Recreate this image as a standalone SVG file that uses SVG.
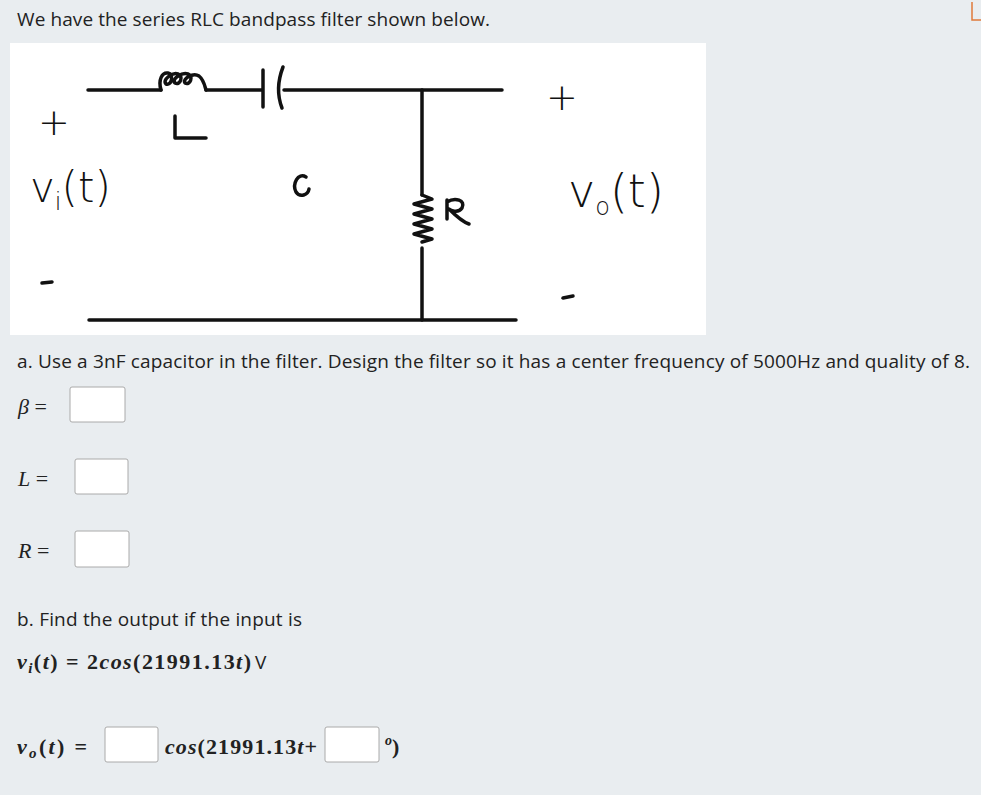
<svg xmlns="http://www.w3.org/2000/svg" width="981" height="795" viewBox="0 0 981 795">
<style>
.t{font-family:"Open Sans","Liberation Sans",sans-serif;font-size:19px;fill:#222}
.m{font-family:"Liberation Serif",serif;font-size:22px;fill:#222}
.b{font-weight:bold}
.hw{font-family:"DejaVu Sans",sans-serif;fill:#111;font-weight:300}
.w{stroke:#111;stroke-width:3.5;fill:none;stroke-linecap:round;stroke-linejoin:round}
.box{fill:#fff;stroke:#aaa;stroke-width:1}
</style>
<rect width="981" height="795" fill="#e9edf0"/>
<path d="M972 2V20H981" stroke="#e07a3a" stroke-width="1.5" fill="none"/>
<text class="t" x="17" y="26" textLength="473">We have the series RLC bandpass filter shown below.</text>
<g id="circuit">
<rect x="10" y="43" width="696" height="292" fill="#fff"/>
<path class="w" d="M88 90H161"/>
<path class="w" d="M161 90C158 80 162 72 168 73C174 74 172 86 166 84C162 80 172 72 178 74C184 76 180 86 175 83C171 79 182 72 188 74C194 76 190 86 185 83C182 79 193 72 199 76C204 80 205 87 206 90"/>
<path class="w" d="M206 90H262"/>
<path class="w" d="M263 70V107"/>
<path class="w" d="M283 67C278 80 277 95 282 108"/>
<path class="w" d="M284 90H502"/>
<path class="w" d="M422 90V195"/>
<path class="w" d="M422 195L432 199L414 204L432 209L414 214L432 219L414 224L432 229L414 234L432 239L422 242"/>
<path class="w" d="M422 248V320"/>
<path class="w" d="M89 320H516"/>
<text class="hw" x="38" y="135" font-size="38">+</text>
<text class="hw" x="546" y="110" font-size="38">+</text>
<path class="w" d="M175 116V138H206"/>
<path class="w" d="M306 177C298 172 292 184 296 192C300 198 308 195 309 189"/>
<path class="w" d="M447 200V219M447 202C455 197 466 200 462 208C458 214 450 210 449 209C456 216 463 222 469 224"/>
<text class="hw" x="30" y="202" font-size="42">v<tspan font-size="24" dy="8">i</tspan><tspan dy="-8">(t)</tspan></text>
<text class="hw" x="568" y="207" font-size="46">v<tspan font-size="24" dy="8">o</tspan><tspan dy="-8">(t)</tspan></text>
<path class="w" d="M42 283L52 282"/>
<path class="w" d="M563 298L573 296"/>
</g>
<text class="t" x="17" y="368" textLength="953">a. Use a 3nF capacitor in the filter. Design the filter so it has a center frequency of 5000Hz and quality of 8.</text>
<g id="beta"><text class="m" x="18" y="414" font-style="italic">β<tspan font-style="normal"> =</tspan></text><rect class="box" x="70" y="387" width="55" height="35" rx="2"/></g>
<g id="L"><text class="m" x="18" y="486" font-style="italic">L<tspan font-style="normal"> =</tspan></text><rect class="box" x="75" y="459" width="53" height="35" rx="2"/></g>
<g id="R"><text class="m" x="18" y="558" font-style="italic">R<tspan font-style="normal"> =</tspan></text><rect class="box" x="75" y="531" width="54" height="36" rx="2"/></g>
<text class="t" x="17" y="626" textLength="285">b. Find the output if the input is</text>
<text class="m b" x="17" y="669" textLength="234"><tspan font-style="italic">v<tspan font-size="15" dy="4">i</tspan></tspan><tspan dy="-4">(</tspan><tspan font-style="italic">t</tspan>) = 2<tspan font-style="italic">cos</tspan>(21991.13<tspan font-style="italic">t</tspan>)</text>
<text class="t" x="255" y="669">V</text>
<g id="vo">
<text class="m b" x="17" y="754" textLength="70"><tspan font-style="italic">v<tspan font-size="15" dy="4">o</tspan></tspan><tspan dy="-4">(</tspan><tspan font-style="italic">t</tspan>) =</text>
<rect class="box" x="105" y="727" width="53" height="35" rx="2"/>
<text class="m b" x="165" y="754" textLength="152"><tspan font-style="italic">cos</tspan>(21991.13<tspan font-style="italic">t</tspan>+</text>
<rect class="box" x="325" y="727" width="54" height="35" rx="2"/>
<text class="m b" x="385" y="754"><tspan font-size="14" dy="-9" font-style="italic">o</tspan><tspan dy="9">)</tspan></text>
</g>
</svg>
